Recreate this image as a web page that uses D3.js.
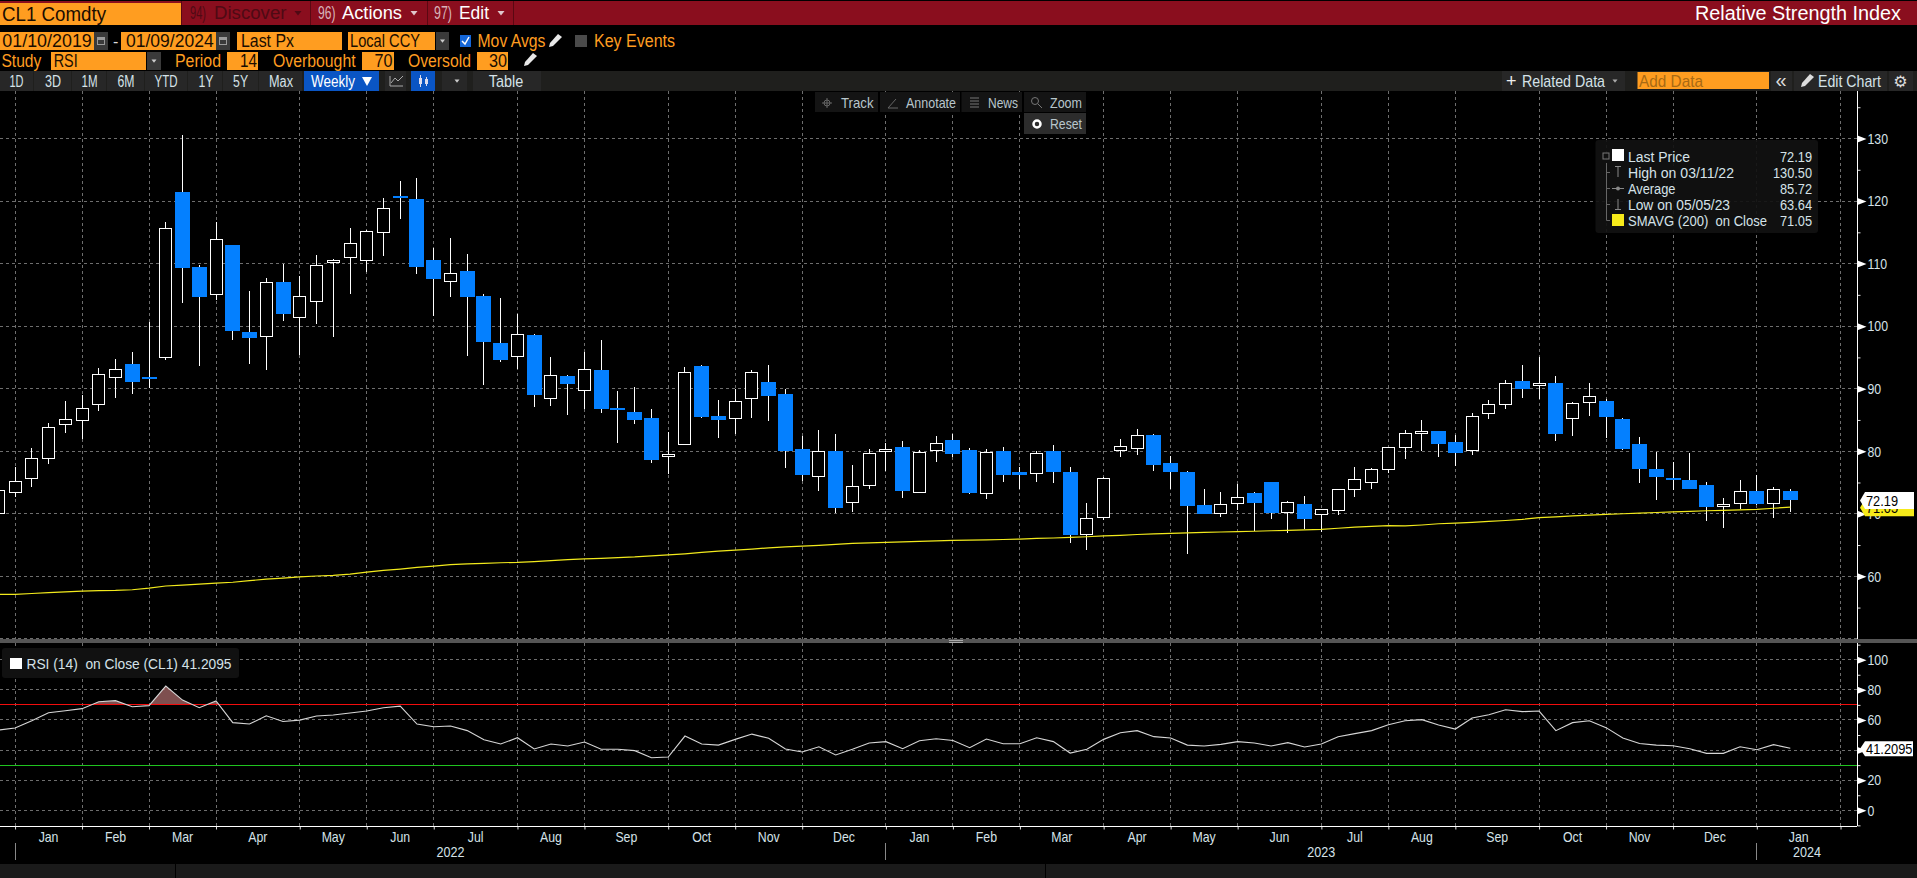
<!DOCTYPE html>
<html>
<head>
<meta charset="utf-8">
<title>CL1 Comdty - Relative Strength Index</title>
<script src="https://cdn.jsdelivr.net/npm/d3@7"></script>
<style>
  html, body { margin: 0; padding: 0; background: #000; overflow: hidden; }
  svg { display: block; }
  text { font-family: "Liberation Sans", sans-serif; white-space: pre; }
</style>
</head>
<body>
<svg id="chart" width="1917" height="878"></svg>
<script>
// Weekly candles for CL1 Comdty, one entry per week ending on a Friday.
const firstWeek = "2021-12-24";
const opens = [70.07,73.37,75.61,78.81,84.3,84.89,87.44,91.75,93.94,91.86,94.95,121.45,109.45,105.03,112.97,99.06,98.31,107.05,101.35,103.91,110.42,111.0,110.47,114.94,120.8,120.33,110.57,107.11,108.81,104.81,97.3,95.12,98.58,88.4,92.03,89.68,92.99,86.92,86.27,85.31,79.13,81.07,93.63,85.63,85.2,88.4,91.07,89.15,80.35,75.93,80.03,71.77,74.49,79.93,80.67,73.37,80.09,81.79,80.19,73.21,80.03,76.68,76.41,80.03,76.68,66.66,69.37,80.09,80.41,82.59,78.12,76.68,71.4,70.01,71.61,73.32,75.08,70.17,71.56,69.85,70.49,73.85,74.97,77.05,80.57,82.81,83.23,81.47,80.08,86.05,87.44,91.22,90.48,90.9,85.2,87.81,88.03,85.15,81.15,77.15,75.7,75.39,74.59,71.18,71.61,73.63,71.61,73.63];
const highs = [74.5,77.48,80.52,84.51,88.03,88.99,93.3,94.74,95.86,100.66,116.65,130.5,109.77,116.65,112.97,105.6,107.69,109.98,108.07,111.37,110.73,115.69,115.37,120.49,123.2,123.69,112.49,114.09,111.53,105.13,104.55,101.94,98.74,95.07,92.19,95.92,97.78,89.63,90.27,86.75,83.07,93.47,93.79,88.19,89.95,92.99,93.79,89.95,82.43,83.39,82.75,77.79,80.35,81.26,81.63,80.19,82.43,82.75,80.51,80.3,80.67,77.48,80.03,81.0,77.48,71.72,75.88,81.95,83.55,82.75,79.23,76.84,73.96,73.48,74.76,73.48,75.08,71.99,72.84,70.71,73.91,77.48,77.32,80.62,83.39,85.0,83.23,82.59,86.05,88.19,91.38,93.78,95.06,92.02,87.87,90.9,88.34,85.31,82.27,79.87,78.27,79.71,75.07,72.51,75.39,76.19,74.27,73.95];
const lows = [69.5,72.73,74.28,77.96,82.91,81.95,86.48,88.56,89.14,90.05,94.58,103.7,93.62,104.12,97.78,93.94,92.98,100.82,95.33,100.34,98.26,105.13,108.6,111.21,117.13,108.33,101.6,104.65,95.22,90.58,94.27,93.15,87.07,87.23,85.79,86.75,86.11,81.31,84.35,78.11,76.35,81.07,85.31,82.11,82.75,85.31,84.83,77.31,75.24,73.64,70.12,70.28,73.96,76.83,72.52,73.37,78.27,79.07,73.16,72.36,75.08,73.96,75.08,74.92,65.32,64.2,69.0,79.07,79.39,76.84,73.96,63.64,69.96,69.48,70.6,67.24,69.16,66.92,67.56,67.08,69.8,72.68,73.96,76.52,78.75,80.03,79.07,77.63,79.39,85.15,86.75,88.5,88.34,81.63,82.43,85.63,82.11,80.19,74.91,72.19,73.79,73.95,68.84,67.72,70.75,71.39,69.31,70.27];
const closes = [73.75,75.19,78.86,83.82,85.1,86.86,92.29,93.09,91.06,91.6,115.64,109.29,104.65,113.88,99.22,98.1,107.0,101.94,104.76,109.72,110.55,113.24,115.16,118.83,120.7,109.45,107.53,108.44,104.65,97.46,94.6,98.69,88.99,92.13,90.75,93.09,86.75,86.8,84.99,78.59,79.5,92.61,85.47,84.99,87.98,92.61,88.83,80.03,76.2,79.98,70.92,74.38,79.66,80.3,73.64,79.82,81.26,79.55,73.32,79.82,76.2,76.2,79.66,76.68,66.6,69.27,75.66,80.78,82.54,77.8,76.68,71.24,69.96,71.5,72.63,71.72,70.12,71.83,69.16,70.71,73.91,75.5,77.1,80.62,82.86,83.18,81.15,79.71,85.57,87.49,90.85,89.94,90.85,82.75,87.65,88.77,85.47,80.35,77.15,75.87,75.4,73.95,71.07,71.5,73.58,71.55,73.9,72.19];
const movingAverage200 = [57.11,57.11,57.25,57.38,57.5,57.64,57.72,57.75,57.85,58.12,58.45,58.6,58.75,58.92,59.05,59.3,59.56,59.72,59.92,60.05,60.15,60.36,60.66,60.95,61.16,61.42,61.64,61.86,62.0,62.08,62.17,62.23,62.35,62.5,62.66,62.78,62.88,63.0,63.1,63.28,63.42,63.6,63.82,64.02,64.2,64.35,64.55,64.72,64.84,64.95,65.1,65.25,65.35,65.43,65.5,65.58,65.68,65.75,65.78,65.82,65.88,65.95,66.05,66.12,66.22,66.32,66.45,66.55,66.68,66.78,66.87,66.95,67.02,67.08,67.13,67.2,67.28,67.35,67.42,67.5,67.68,67.85,67.98,68.1,68.05,68.2,68.4,68.5,68.62,68.78,68.92,69.1,69.37,69.5,69.65,69.78,69.9,70.0,70.1,70.2,70.3,70.38,70.48,70.55,70.62,70.7,70.88,71.05];
const rsiValues = [53.3,54.6,59.5,64.8,66.1,67.5,72.1,72.8,68.8,69.5,82.5,73.2,68.1,72.6,58.2,57.3,62.8,59.0,59.9,62.6,63.3,64.6,65.9,68.1,69.2,57.3,55.5,56.0,52.9,46.9,44.0,48.2,40.7,44.0,42.7,45.3,40.5,40.5,39.6,34.9,35.4,49.3,44.0,43.3,47.1,50.6,47.8,40.7,38.7,42.2,36.7,40.5,44.7,45.6,40.9,46.2,47.5,46.4,41.6,47.3,44.2,44.2,48.2,45.6,38.0,40.5,47.1,51.5,52.9,48.9,48.0,43.3,42.7,43.8,45.6,44.7,42.7,44.9,42.0,44.0,48.9,50.9,52.9,56.8,59.5,60.2,56.6,53.96,61.3,63.5,66.8,65.5,65.9,52.9,58.2,59.5,54.9,48.0,44.4,43.3,42.9,40.9,37.8,37.8,42.2,40.2,43.6,41.2095];

// Tick values for the two value panes and the shared time axis.
const priceMajorTicks = [60,70,80,90,100,110,120,130];
const priceMinorTicks = [55,65,75,85,95,105,115,125,135];
const priceGridLevels = [50,60,70,80,90,100,110,120,130];
const rsiMajorTicks = [0,20,40,60,80,100];
const rsiMinorTicks = [-10,10,30,50,70,90,110];
const monthBoundaries = ["2021-12-31","2022-01-28","2022-02-25","2022-03-25","2022-04-29","2022-05-27","2022-06-24","2022-07-29","2022-08-26","2022-09-30","2022-10-28","2022-11-25","2022-12-30","2023-01-27","2023-02-24","2023-03-31","2023-04-28","2023-05-26","2023-06-30","2023-07-28","2023-08-25","2023-09-29","2023-10-27","2023-11-24","2023-12-29","2024-02-02"];
const monthNames = ["Jan","Feb","Mar","Apr","May","Jun","Jul","Aug","Sep","Oct","Nov","Dec","Jan","Feb","Mar","Apr","May","Jun","Jul","Aug","Sep","Oct","Nov","Dec","Jan"];
const yearBoundaries = ["2021-12-31","2022-12-30","2023-12-29"];
const yearNames = ["2022","2023","2024"];

// Reference levels and figures reported in the legends.
const overbought = 70;
const oversold = 30;
const lastPrice = 72.19;
const smaLast = 71.05;
const rsiLast = 41.2095;
const legendRows = ["Last Price","High on 03/11/22","Average","Low on 05/05/23","SMAVG (200)  on Close"];
const legendValues = ["72.19","130.50","85.72","63.64","71.05"];

// Toolbar labels.
const rangeButtons = ["1D","3D","1M","6M","YTD","1Y","5Y","Max"];
const paneTools = ["Track","Annotate","News","Zoom"];

const ORANGE = "#ff9d20", RED = "#8a0e1e", CHROME = "#1f1f1d", BTN = "#272727";
const TXT = "#d5e2e8", GRID = "#6e6e6e", BLUE = "#0480ff";

const svg = d3.select("#chart");
const parse = d3.utcParse("%Y-%m-%d");
const weeks = closes.map((_, i) => d3.utcDay.offset(parse(firstWeek), 7 * i));

const plotRight = 1857;
const x = d3.scaleUtc().domain([weeks[0], weeks[weeks.length - 1]]).range([-1.7, 1790.3]);
const yPrice = d3.scaleLinear().domain([60, 130]).range([576.3, 138.5]);
const yRsi = d3.scaleLinear().domain([0, 100]).range([810.3, 659.7]);
const px = d => Math.floor(x(d)) + 0.5;
const snap = v => Math.floor(v) + 0.5;

// The terminal face is a tall condensed one: glyphs are squeezed horizontally to a given width.
function squeeze(sel, width) {
  sel.attr("textLength", width).attr("lengthAdjust", "spacingAndGlyphs");
}
function squeezeBy(sel, factor) {
  sel.each(function () { squeeze(d3.select(this), this.getComputedTextLength() * factor); });
}
function label(g, str, lx, ly, size, fill, anchor, width) {
  const t = g.append("text").attr("x", lx).attr("y", ly).attr("dy", "0.35em")
    .attr("font-size", size).attr("fill", fill).attr("text-anchor", anchor || "start").text(str);
  if (width) squeeze(t, width);
  return t;
}
function box(g, bx, by, w, h, fill) {
  return g.append("rect").attr("x", bx).attr("y", by).attr("width", w).attr("height", h).attr("fill", fill);
}
function caret(g, cx, cy, size, fill) {
  g.append("path").attr("d", `M${cx - size},${cy - size * 0.6}L${cx + size},${cy - size * 0.6}L${cx},${cy + size * 0.7}Z`).attr("fill", fill);
}
function pencil(g, px0, py0, fill) {
  g.append("path").attr("transform", `translate(${px0},${py0})`)
    .attr("d", "M0,13L1,9L9,0L13,3L4,12Z").attr("fill", fill);
}
function calendar(g, cx, cy) {
  box(g, cx, cy, 14, 18, "#3a3a3a");
  box(g, cx + 3, cy + 5, 8, 8, "#9a9a9a");
  box(g, cx + 4, cy + 8, 6, 4, "#3a3a3a");
}

// Top command bar.
const chrome = svg.append("g");
box(chrome, 0, 1, 1917, 24, RED);
box(chrome, 0, 3, 181, 22, ORANGE);
label(chrome, "CL1 Comdty", 2, 14, 20, "#1a0d00", "start", 104);
label(chrome, "94)", 190, 13, 18, "#4f0a14", "start", 16);
label(chrome, "Discover", 214, 13, 18, "#4f0a14", "start", 72.5);
caret(chrome, 298, 13, 3.5, "#4f0a14");
[181, 310, 427, 513].forEach(s => box(chrome, s, 1, 1, 24, "#5a0812"));
label(chrome, "96)", 318, 13, 18, "#d8b4ba", "start", 17.5);
label(chrome, "Actions", 342, 13, 18, "#fff", "start", 60);
caret(chrome, 414, 13, 3.5, "#e0c8cc");
label(chrome, "97)", 434, 13, 18, "#d8b4ba", "start", 18);
label(chrome, "Edit", 459, 13, 18, "#fff", "start", 30);
caret(chrome, 501, 13, 3.5, "#e0c8cc");
label(chrome, "Relative Strength Index", 1901, 13, 20, "#fff", "end", 206);

// Date range and security settings.
box(chrome, 0, 32, 94, 18, ORANGE);
label(chrome, "01/10/2019", 2.3, 41, 17.5, "#1a0d00", "start", 89.5);
calendar(chrome, 94, 32);
label(chrome, "-", 113, 41, 16, "#ddd");
box(chrome, 121, 32, 95, 18, ORANGE);
label(chrome, "01/09/2024", 126, 41, 17.5, "#1a0d00", "start", 87.7);
calendar(chrome, 216, 32);
box(chrome, 237, 32, 105, 18, ORANGE);
label(chrome, "Last Px", 241, 41, 17.5, "#1a0d00", "start", 53);
box(chrome, 348, 32, 87, 18, ORANGE);
label(chrome, "Local CCY", 350, 41, 17.5, "#1a0d00", "start", 70);
box(chrome, 436, 32, 13, 18, "#3a3a3a");
caret(chrome, 442.5, 41, 2.5, "#ccc");
box(chrome, 460, 35, 11, 12, "#1466d8");
chrome.append("path").attr("d", "M462,41L465,44L469,37").attr("fill", "none").attr("stroke", "#fff").attr("stroke-width", 1.5);
label(chrome, "Mov Avgs", 477.5, 41, 17.5, ORANGE, "start", 68);
pencil(chrome, 549, 34, "#e8e8e8");
box(chrome, 575, 35, 12, 12, "#4a4a4a");
label(chrome, "Key Events", 594, 41, 17.5, ORANGE, "start", 81);

// Study settings.
label(chrome, "Study", 1.4, 61, 17.5, ORANGE, "start", 40);
box(chrome, 51, 52, 95, 18, ORANGE);
label(chrome, "RSI", 53.7, 61, 17.5, "#1a0d00", "start", 24);
box(chrome, 147, 52, 14, 18, "#3a3a3a");
caret(chrome, 154, 61, 2.5, "#ccc");
label(chrome, "Period", 175, 61, 17.5, ORANGE, "start", 46);
box(chrome, 227, 52, 31, 18, ORANGE);
label(chrome, "14", 257, 61, 17.5, "#1a0d00", "end", 17);
label(chrome, "Overbought", 273, 61, 17.5, ORANGE, "start", 82.6);
box(chrome, 362, 52, 32, 18, ORANGE);
label(chrome, "70", 392.5, 61, 17.5, "#1a0d00", "end", 18);
label(chrome, "Oversold", 408, 61, 17.5, ORANGE, "start", 63);
box(chrome, 477, 52, 31, 18, ORANGE);
label(chrome, "30", 507, 61, 17.5, "#1a0d00", "end", 18);
pencil(chrome, 524, 53, "#e8e8e8");

// Range buttons row.
box(chrome, 0, 71, 1917, 20, CHROME);
const rangeCentres = [16.5, 53, 89.5, 126, 166, 206, 240.6, 281];
const rangeWidths = [14, 16, 16, 17, 23, 15, 15, 24];
const rangeEdges = [0, 34, 72, 107, 145, 188, 223, 259, 303];
rangeButtons.forEach((b, i) => {
  box(chrome, rangeEdges[i], 71, rangeEdges[i + 1] - rangeEdges[i] - 1, 20, BTN);
  label(chrome, b, rangeCentres[i], 81, 16, TXT, "middle", rangeWidths[i]);
});
box(chrome, 304, 71, 75, 20, "#0a55c4");
label(chrome, "Weekly", 311, 81, 17, "#fff", "start", 44);
chrome.append("path").attr("d", "M362,77L372,77L367,86Z").attr("fill", "#fff");
box(chrome, 385, 71, 21, 20, BTN);
chrome.append("path").attr("d", "M390,86L390,76M390,86L403,86M391,83L395,78L398,81L403,76").attr("fill", "none").attr("stroke", "#aaa");
box(chrome, 411, 71, 24, 20, "#0a55c4");
chrome.append("path").attr("d", "M420.5,75V87M426.5,77V86").attr("stroke", "#dde");
box(chrome, 419, 78, 3, 6, "#dde");
box(chrome, 425, 79, 3, 5, "#dde");
box(chrome, 442, 71, 25, 20, BTN);
caret(chrome, 457, 81, 2.5, "#ccc");
box(chrome, 473, 71, 68, 20, BTN);
label(chrome, "Table", 506, 81, 17, TXT, "middle", 34.5);

box(chrome, 1502, 71, 123, 20, BTN);
label(chrome, "+", 1506, 81, 18, "#eee");
label(chrome, "Related Data", 1522, 81, 17, TXT, "start", 83);
caret(chrome, 1615, 81, 2.5, "#aaa");
box(chrome, 1637.5, 72, 131.5, 17, ORANGE);
label(chrome, "Add Data", 1639, 81, 17, "#a86a14", "start", 64);
box(chrome, 1771, 71, 21, 20, BTN);
label(chrome, "«", 1781, 80, 20, "#ddd", "middle");
box(chrome, 1794, 71, 93, 20, BTN);
pencil(chrome, 1801, 74, "#ddd");
label(chrome, "Edit Chart", 1818, 81, 17, TXT, "start", 63);
box(chrome, 1889, 71, 24, 20, BTN);
label(chrome, "⚙", 1900.5, 81, 16, "#ddd", "middle").style("font-family", "DejaVu Sans");

// Dotted grid shared by both panes.
const gridLayer = svg.append("g").attr("stroke", GRID).attr("stroke-width", 1).attr("stroke-dasharray", "3,3").attr("fill", "none");
gridLayer.selectAll(".gv").data(monthBoundaries).join("line")
  .attr("x1", d => px(parse(d))).attr("x2", d => px(parse(d)))
  .attr("y1", 91).attr("y2", 826);
gridLayer.selectAll(".gp").data(priceGridLevels).join("line")
  .attr("x1", 0).attr("x2", plotRight)
  .attr("y1", d => snap(yPrice(d))).attr("y2", d => snap(yPrice(d)));
gridLayer.selectAll(".gr").data(rsiMajorTicks).join("line")
  .attr("x1", 0).attr("x2", plotRight)
  .attr("y1", d => snap(yRsi(d))).attr("y2", d => snap(yRsi(d)));

// Candles: wicks first, then bodies so hollow bodies hide the wick behind them.
const candles = closes.map((c, i) => ({ week: weeks[i], open: opens[i], high: highs[i], low: lows[i], close: c, up: c >= opens[i] }));
const candleLayer = svg.append("g").attr("shape-rendering", "crispEdges");
candleLayer.selectAll("line").data(candles).join("line")
  .attr("x1", d => px(d.week)).attr("x2", d => px(d.week))
  .attr("y1", d => yPrice(d.high)).attr("y2", d => yPrice(d.low))
  .attr("stroke", "#fff").attr("stroke-width", 1);
candleLayer.selectAll("rect.down").data(candles.filter(d => !d.up)).join("rect").attr("class", "down")
  .attr("x", d => px(d.week) - 7.5).attr("width", 15)
  .attr("y", d => Math.round(yPrice(d.open)))
  .attr("height", d => Math.max(2, Math.round(yPrice(d.close) - yPrice(d.open))))
  .attr("fill", BLUE);
candleLayer.selectAll("rect.up").data(candles.filter(d => d.up)).join("rect").attr("class", "up")
  .attr("x", d => px(d.week) - 6).attr("width", 12)
  .attr("y", d => snap(yPrice(d.close)))
  .attr("height", d => Math.max(2, Math.round(yPrice(d.open) - yPrice(d.close))))
  .attr("fill", "#000").attr("stroke", "#fff").attr("stroke-width", 1);

// 200-period simple moving average.
const lineSma = d3.line().x((d, i) => x(weeks[i])).y(d => yPrice(d));
svg.append("path").datum(movingAverage200).attr("d", lineSma)
  .attr("fill", "none").attr("stroke", "#f2ea1c").attr("stroke-width", 1.2);

// Price pane axis.
const priceAxisLayer = svg.append("g").attr("transform", `translate(${plotRight + 0.5},0)`);
priceAxisLayer.append("g")
  .call(d3.axisRight(yPrice).tickValues(priceMinorTicks).tickSize(3).tickFormat(""))
  .call(g => g.select(".domain").remove())
  .selectAll("line").attr("stroke", "#ddd");
priceAxisLayer.append("line").attr("y1", 91).attr("y2", 639).attr("stroke", "#fff");
priceAxisLayer.append("g")
  .call(d3.axisRight(yPrice).tickValues(priceMajorTicks).tickSize(0).tickPadding(10))
  .call(g => g.select(".domain").remove())
  .call(g => g.selectAll("text").attr("font-size", 15).attr("fill", TXT)
    .style("font-family", '"Liberation Sans"').call(squeezeBy, 0.82))
  .call(g => g.selectAll(".tick").append("path").attr("d", "M0,-3.5L9,0L0,3.5Z").attr("fill", "#fff"));

// Last value flags on the axes.
function flag(g, cy, w, h, fill, str, tx, textWidth) {
  const x0 = plotRight + 3;
  g.append("path")
    .attr("d", `M${x0},${cy}L${x0 + 5},${cy - h / 2}L${x0 + w},${cy - h / 2}L${x0 + w},${cy + h / 2}L${x0 + 5},${cy + h / 2}Z`)
    .attr("fill", fill);
  label(g, str, tx, cy, 15.5, "#000", "start", textWidth);
}
const flags = svg.append("g");
flag(flags, yPrice(smaLast) + 0.5, 54, 17, "#f6ea1a", d3.format(".2f")(smaLast), 1866, 32);
flag(flags, yPrice(lastPrice) + 0.5, 54, 17, "#fff", d3.format(".2f")(lastPrice), 1866, 32);

// Price legend panel.
const legend = svg.append("g");
box(legend, 1595.5, 140, 222.5, 93, "#111").attr("fill-opacity", 0.92).attr("rx", 3);
const legendY = [156.7, 172.5, 188.5, 204.5, 220.5];
const legendRowWidths = [62, 106, 47.5, 102, 139];
const legendValueWidths = [32, 39, 32, 32, 32];
legend.append("path").attr("d", "M1606.5,163V220.5M1606.5,172.5H1610M1606.5,188.5H1610M1606.5,204.5H1610M1606.5,220.5H1610")
  .attr("stroke", "#666").attr("fill", "none");
legend.append("rect").attr("x", 1603).attr("y", 153).attr("width", 6).attr("height", 6).attr("fill", "none").attr("stroke", "#777");
box(legend, 1612, 149, 12, 12, "#fff");
legend.append("path").attr("d", "M1615,166.5H1621M1618,166.5V177").attr("stroke", "#888").attr("fill", "none");
legend.append("path").attr("d", "M1612,188.5H1624").attr("stroke", "#888").attr("fill", "none");
legend.append("circle").attr("cx", 1618).attr("cy", 188.5).attr("r", 2).attr("fill", "#888");
legend.append("path").attr("d", "M1615,209.5H1621M1618,199V209.5").attr("stroke", "#888").attr("fill", "none");
box(legend, 1612, 214, 12, 12, "#f6ea1a");
legendRows.forEach((r, i) => {
  label(legend, r, 1628, legendY[i], 15.5, TXT, "start", legendRowWidths[i]);
  label(legend, legendValues[i], 1812, legendY[i], 15.5, TXT, "end", legendValueWidths[i]);
});

// Floating pane tools.
const tools = svg.append("g");
const toolEdges = [[815, 63], [880, 80], [961.5, 60.5], [1024, 62]];
const toolText = [841, 906, 988, 1050];
const toolWidths = [32.5, 50, 30, 32];
paneTools.forEach((t, i) => {
  box(tools, toolEdges[i][0], 92, toolEdges[i][1], 20, "#141414");
  label(tools, t, toolText[i], 103, 15, "#b8c6cc", "start", toolWidths[i]);
});
tools.append("path").attr("d", "M827,98V108M822,103H832").attr("stroke", "#666");
tools.append("circle").attr("cx", 827).attr("cy", 103).attr("r", 3).attr("fill", "none").attr("stroke", "#666");
tools.append("path").attr("d", "M888,108L896,99M888,108H898").attr("stroke", "#666");
tools.append("path").attr("d", "M970,98H979M970,101H979M970,104H979M970,107H979").attr("stroke", "#777");
tools.append("circle").attr("cx", 1035).attr("cy", 101).attr("r", 3.5).attr("fill", "none").attr("stroke", "#777");
tools.append("path").attr("d", "M1038,104L1042,108").attr("stroke", "#777");
box(tools, 1024, 113, 62, 21, "#2c2c2c");
tools.append("circle").attr("cx", 1037).attr("cy", 124).attr("r", 3.5).attr("fill", "none").attr("stroke", "#fff").attr("stroke-width", 2.5);
label(tools, "Reset", 1050, 124, 15, "#b8c6cc", "start", 32);

// Divider between the panes.
box(svg, 0, 639, plotRight + 60, 4, "#555");
svg.append("path").attr("d", "M949,640.5H963M949,642.5H963").attr("stroke", "#aaa");

// RSI levels, overbought shading and line.
svg.append("clipPath").attr("id", "aboveOverbought").append("rect")
  .attr("x", 0).attr("y", 643).attr("width", plotRight).attr("height", yRsi(overbought) - 643);
const areaRsi = d3.area().x((d, i) => x(weeks[i])).y0(yRsi(overbought)).y1(d => yRsi(d));
svg.append("path").datum(rsiValues).attr("d", areaRsi)
  .attr("clip-path", "url(#aboveOverbought)").attr("fill", "#a86a6a").attr("fill-opacity", 0.75);
svg.append("line").attr("x1", 0).attr("x2", plotRight).attr("y1", snap(yRsi(overbought))).attr("y2", snap(yRsi(overbought))).attr("stroke", "#f20d0d");
svg.append("line").attr("x1", 0).attr("x2", plotRight).attr("y1", snap(yRsi(oversold))).attr("y2", snap(yRsi(oversold))).attr("stroke", "#1fc41f");
const lineRsi = d3.line().x((d, i) => x(weeks[i])).y(d => yRsi(d));
svg.append("path").datum(rsiValues).attr("d", lineRsi)
  .attr("fill", "none").attr("stroke", "#d6d6d6").attr("stroke-width", 1.1);

// RSI legend.
const rsiLegend = svg.append("g");
box(rsiLegend, 2, 648, 237, 30, "#111").attr("rx", 3);
box(rsiLegend, 10, 658, 12, 11, "#fff");
label(rsiLegend, `RSI (14)  on Close (CL1) ${rsiLast}`, 26.5, 664, 15.5, TXT, "start", 205);

// RSI axis.
const rsiAxisLayer = svg.append("g").attr("transform", `translate(${plotRight + 0.5},0)`);
rsiAxisLayer.append("g")
  .call(d3.axisRight(yRsi).tickValues(rsiMinorTicks).tickSize(3).tickFormat(""))
  .call(g => g.select(".domain").remove())
  .selectAll("line").attr("stroke", "#ddd");
rsiAxisLayer.append("line").attr("y1", 643).attr("y2", 826).attr("stroke", "#fff");
rsiAxisLayer.append("g")
  .call(d3.axisRight(yRsi).tickValues(rsiMajorTicks).tickSize(0).tickPadding(10))
  .call(g => g.select(".domain").remove())
  .call(g => g.selectAll("text").attr("font-size", 15).attr("fill", TXT)
    .style("font-family", '"Liberation Sans"').call(squeezeBy, 0.82))
  .call(g => g.selectAll(".tick").append("path").attr("d", "M0,-3.5L9,0L0,3.5Z").attr("fill", "#fff"));
flag(svg.append("g"), yRsi(rsiLast) + 0.5, 53, 15, "#fff", String(rsiLast), 1866, 46.5);

// Time axis: month ticks along the base line, month and year names centred between them.
const timeAxis = svg.append("g").attr("transform", "translate(0,826.5)");
timeAxis.call(d3.axisBottom(x).tickValues(monthBoundaries.map(parse)).tickSize(3).tickFormat(""))
  .call(g => g.select(".domain").remove())
  .selectAll("line").attr("stroke", "#ddd");
svg.append("line").attr("x1", 0).attr("x2", plotRight).attr("y1", 826.5).attr("y2", 826.5).attr("stroke", "#fff");
const timeLabels = svg.append("g");
monthNames.forEach((m, i) => {
  const mid = (x(parse(monthBoundaries[i])) + x(parse(monthBoundaries[i + 1]))) / 2;
  label(timeLabels, m, mid, 836.5, 15, TXT, "middle").call(squeezeBy, 0.82);
});
const yearEnds = [...yearBoundaries.map(d => x(parse(d))), plotRight];
yearNames.forEach((y, i) => {
  box(timeLabels, Math.floor(yearEnds[i]), 843, 1, 17, "#888");
  label(timeLabels, y, (yearEnds[i] + yearEnds[i + 1]) / 2, 852, 15, TXT, "middle", 28);
});

// Bottom status strip.
box(svg, 0, 864, 1917, 14, "#1a1a1a");
box(svg, 175, 864, 1, 14, "#000");
box(svg, 1045, 864, 1, 14, "#000");
</script>
</body>
</html>
